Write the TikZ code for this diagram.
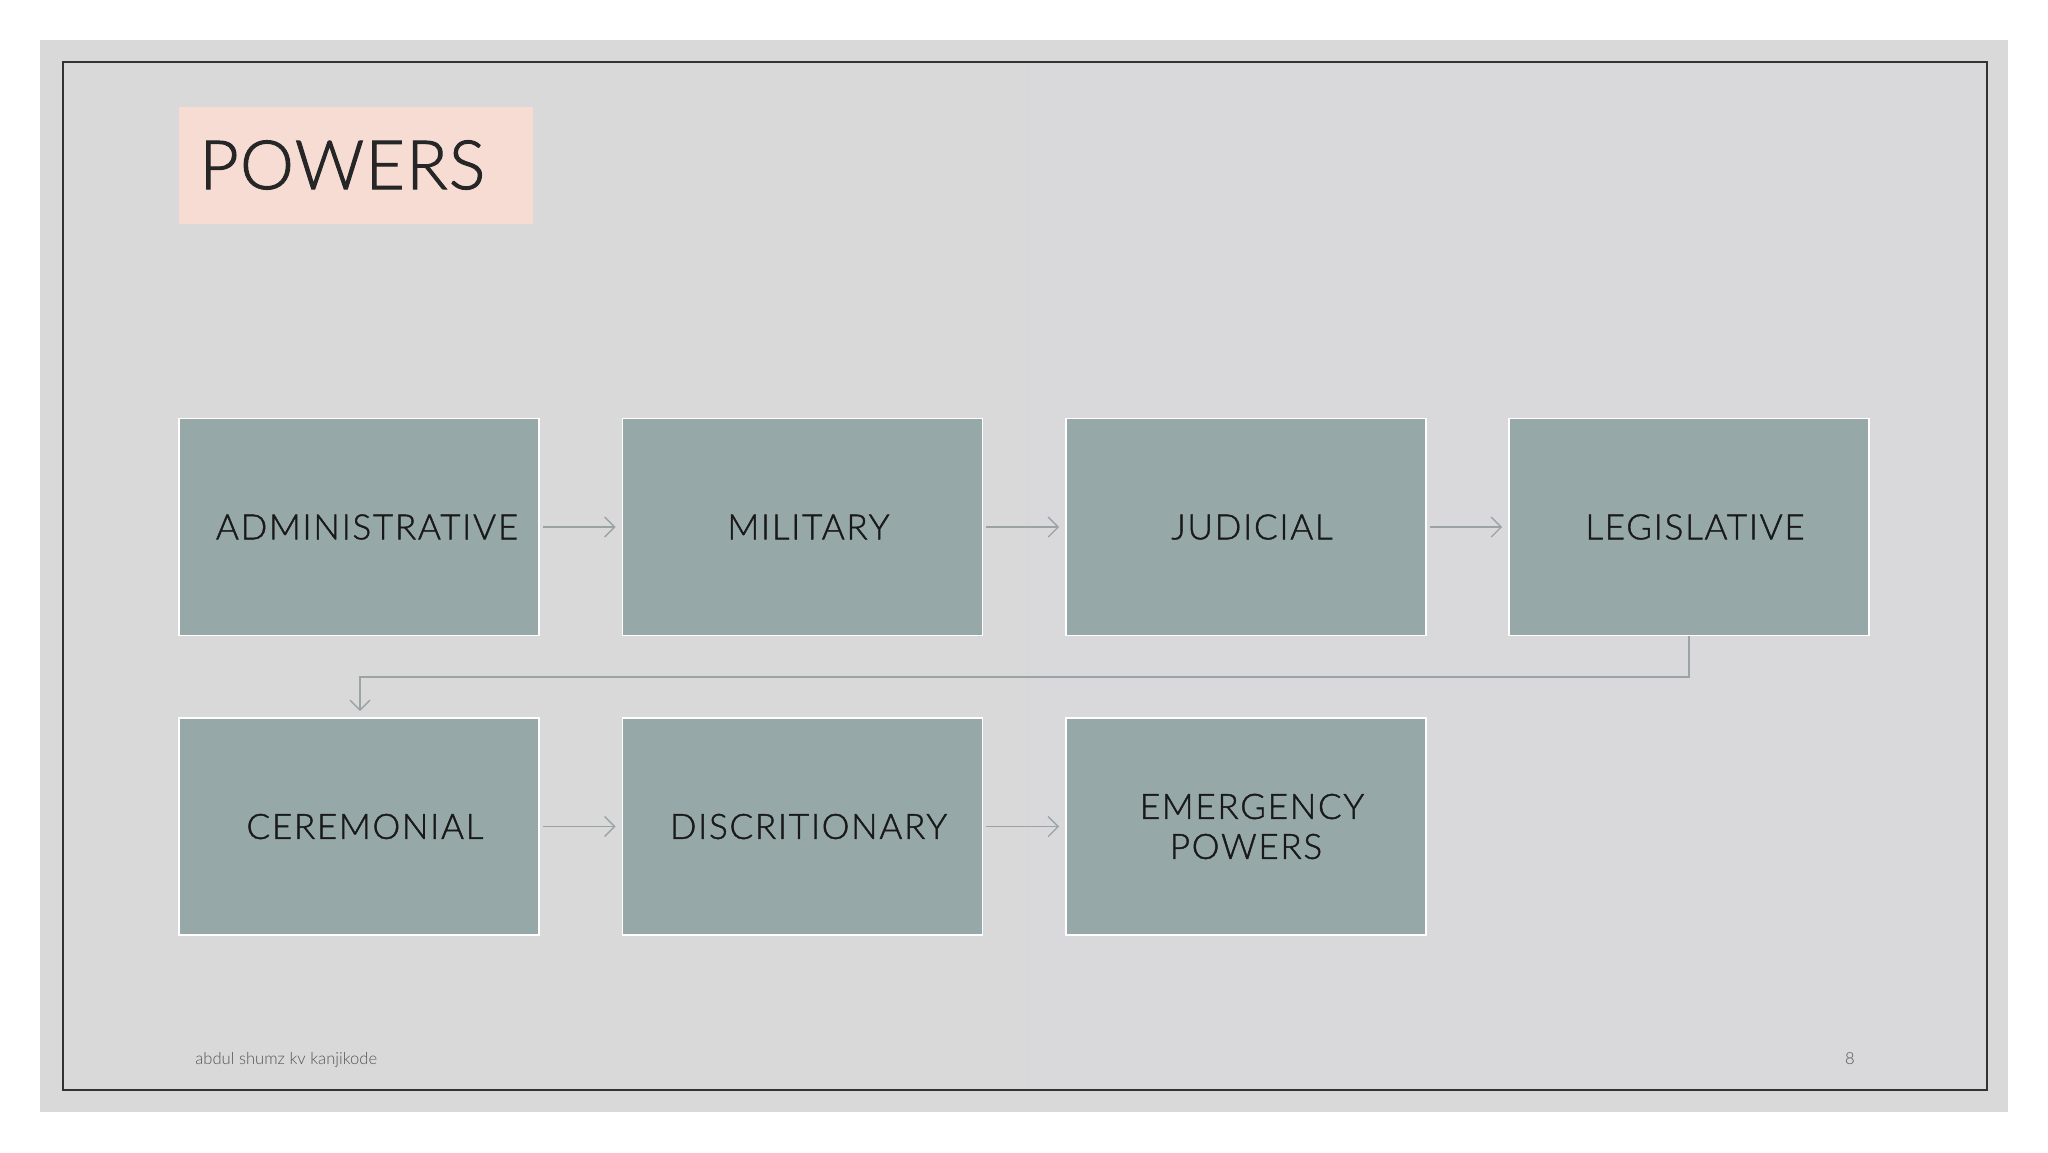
\documentclass[tikz,border=0pt]{standalone}
\usepackage{fontspec}
\setmainfont{Lato}[UprightFont=* Light]
\newfontfamily\boxfont{Lato}[UprightFont=* Light, FakeBold=1.2, LetterSpace=5]
\newfontfamily\titlefont{Lato}[UprightFont=* Light, FakeBold=1.5, LetterSpace=2]
\usetikzlibrary{arrows.meta}
\definecolor{bgouter}{HTML}{D9D9D9}
\definecolor{bginner}{HTML}{D9D8DA}
\definecolor{boxfill}{HTML}{97A8A9}
\definecolor{titlefill}{HTML}{F6DCD3}
\definecolor{arrowgray}{HTML}{9AA4A4}
\definecolor{footgray}{HTML}{555555}
\tikzset{
  stepbox/.style={draw=white, line width=0.8pt, fill=boxfill, minimum width=180pt, minimum height=108.5pt, inner sep=0pt, align=center, font=\boxfont\fontsize{17.5}{20.5}\selectfont, text=black!90},
  flow/.style={draw=arrowgray, line width=0.7pt, -{Straight Barb[length=5pt,width=10pt,line width=0.7pt]}},
}
\begin{document}
\begin{tikzpicture}[x=0.5pt,y=-0.5pt]
\useasboundingbox (0,0) rectangle (2048,1152);
\fill[white] (0,0) rectangle (2048,1152);
\fill[bgouter] (40,40) rectangle (2008,1112);
\shade[left color=bgouter, right color=bginner] (63,62) rectangle (1987,1090);
\draw[line width=1pt, black!80] (63,62) rectangle (1987,1090);
% title
\fill[titlefill] (179,107) rectangle (533,224);
\node[anchor=west, inner sep=0pt, font=\titlefont\fontsize{34}{38}\selectfont, text=black!85] (title) at (199,165) {POWERS};
% boxes
\node[stepbox] (adm) at (359,527) {\hspace*{8pt}ADMINISTRATIVE};
\node[stepbox] (mil) at (802.5,527) {\hspace*{6pt}MILITARY};
\node[stepbox] (jud) at (1246,527) {\hspace*{6pt}JUDICIAL};
\node[stepbox] (leg) at (1689,527) {\hspace*{6pt}LEGISLATIVE};
\node[stepbox] (cer) at (359,826.5) {\hspace*{6pt}CEREMONIAL};
\node[stepbox] (dis) at (802.5,826.5) {\hspace*{6pt}DISCRITIONARY};
\node[stepbox] (eme) at (1246,826.5) {\hspace*{6pt}EMERGENCY\\[-0.5pt]POWERS};
% connectors
\draw[flow] ([xshift=1.5pt]adm.east) -- ([xshift=-3pt]mil.west);
\draw[flow] ([xshift=1.5pt]mil.east) -- ([xshift=-3pt]jud.west);
\draw[flow] ([xshift=1.5pt]jud.east) -- ([xshift=-3pt]leg.west);
\draw[flow] ([xshift=1.5pt]cer.east) -- ([xshift=-3pt]dis.west);
\draw[flow] ([xshift=1.5pt]dis.east) -- ([xshift=-3pt]eme.west);
\coordinate (turnA) at (1689,677);
\coordinate (turnB) at (360,677);
\draw[flow] (leg.south) -- (turnA) -- (turnB) -- ([xshift=0.5pt,yshift=3pt]cer.north);
% footer
\node[anchor=base west, inner sep=0pt, font=\fontsize{8.3}{10}\selectfont, text=footgray] (foot) at (195,1064) {abdul shumz kv kanjikode};
\node[anchor=base, inner sep=0pt, font=\fontsize{8.3}{10}\selectfont, text=footgray] (page) at (1850,1064) {8};
\end{tikzpicture}
\end{document}
